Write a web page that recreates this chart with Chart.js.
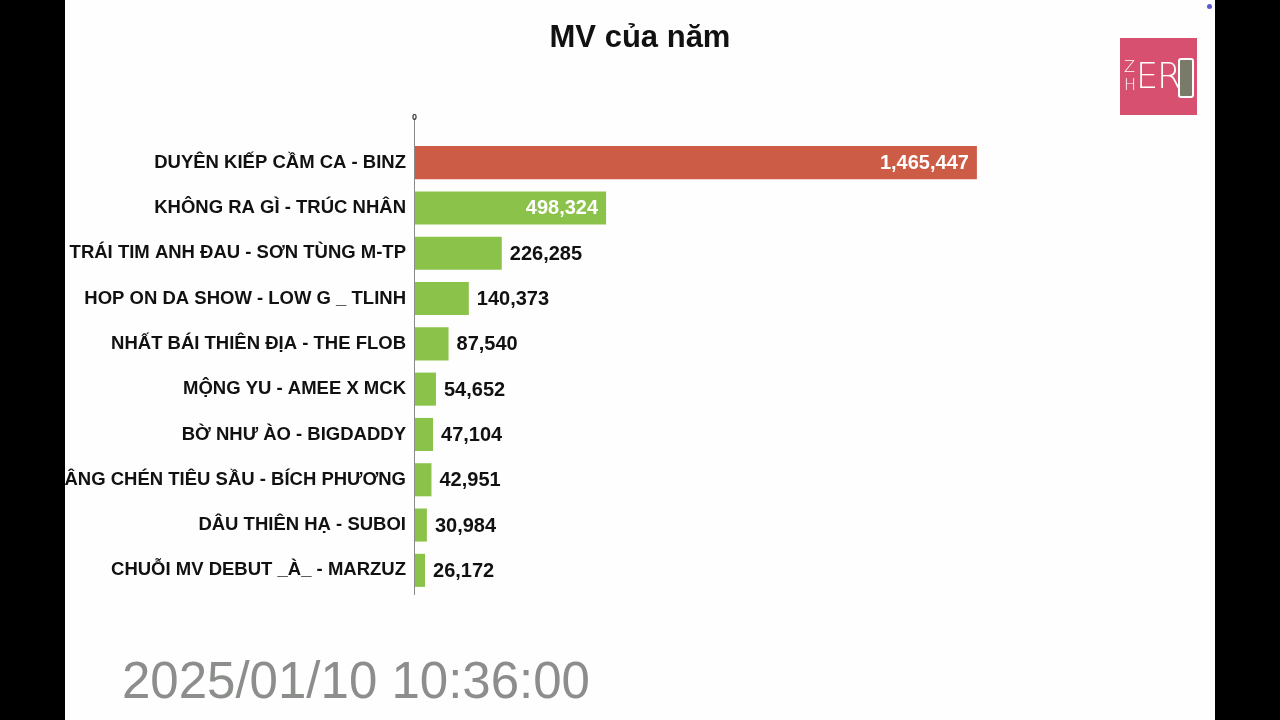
<!DOCTYPE html>
<html>
<head>
<meta charset="utf-8">
<script src="https://cdn.jsdelivr.net/npm/chart.js@4"></script>
<style>
  html, body { margin: 0; padding: 0; background: #000; }
  #stage { position: relative; width: 1280px; height: 720px; overflow: hidden; background: #000; }
  #panel { position: absolute; left: 65px; top: 0; width: 1150px; height: 720px; background: #fdfefd; }
  #wrap { position: absolute; left: 0; top: 0; width: 1150px; height: 720px; }
  #title {
    position: absolute; left: 0; top: 18px; width: 1150px; text-align: center;
    font: bold 31px "Liberation Sans", Arial, sans-serif; color: #111; line-height: 37px;
  }
  #stamp {
    position: absolute; left: 57px; top: 651px;
    font: 51px "Liberation Sans", Arial, sans-serif; color: #8c8e8c; white-space: nowrap;
  }
  #logo {
    position: absolute; left: 1055px; top: 38px; width: 77px; height: 77px; background: #d8506f;
    color: #fff; font-family: "DejaVu Sans", sans-serif;
  }
  #logo .zh { position: absolute; left: 4px; top: 20px; font-size: 16px; line-height: 18px; font-weight: 300; }
  #logo .er { position: absolute; left: 16px; top: 19px; font-size: 35px; line-height: 38px; font-weight: 300; letter-spacing: -1px; }
  #logo .ph { position: absolute; left: 58px; top: 20px; width: 12px; height: 36px; border: 2px solid #fff; border-radius: 3px; background: #7a7a68; }
  #dot { position: absolute; left: 1207px; top: 4px; width: 5px; height: 5px; border-radius: 50%; background: #5b5bd0; }
</style>
</head>
<body>
<div id="stage">
  <div id="panel">
    <div id="wrap"><canvas id="chart"></canvas></div>
    <div id="title">MV của năm</div>
    <div id="stamp">2025/01/10 10:36:00</div>
    <div id="logo"><div class="zh">Z<br>H</div><div class="er">ER</div><div class="ph"></div></div>
  </div>
  <div id="dot"></div>
</div>
<script>
const songs = [
  'DUYÊN KIẾP CẦM CA - BINZ',
  'KHÔNG RA GÌ - TRÚC NHÂN',
  'TRÁI TIM ANH ĐAU - SƠN TÙNG M-TP',
  'HOP ON DA SHOW - LOW G _ TLINH',
  'NHẤT BÁI THIÊN ĐỊA - THE FLOB',
  'MỘNG YU - AMEE X MCK',
  'BỜ NHƯ ÀO - BIGDADDY',
  'NÂNG CHÉN TIÊU SẦU - BÍCH PHƯƠNG',
  'DÂU THIÊN HẠ - SUBOI',
  'CHUỖI MV DEBUT _À_ - MARZUZ'
];
const views = [1465447, 498324, 226285, 140373, 87540, 54652, 47104, 42951, 30984, 26172];
const barColors = ['#cc5c45', '#8bc34a', '#8bc34a', '#8bc34a', '#8bc34a', '#8bc34a', '#8bc34a', '#8bc34a', '#8bc34a', '#8bc34a'];

const FONT = '"Liberation Sans", Arial, sans-serif';
const fmt = v => v.toLocaleString('en-US');

// zero line + tiny top tick label, drawn under the bars
const zeroLine = {
  id: 'zeroLine',
  beforeDatasetsDraw(chart) {
    const { ctx, chartArea, scales } = chart;
    const x = Math.round(scales.x.getPixelForValue(0)) - 0.5;
    ctx.save();
    ctx.strokeStyle = '#8a8a8a';
    ctx.lineWidth = 1;
    ctx.beginPath();
    ctx.moveTo(x, chartArea.top - 22);
    ctx.lineTo(x, chartArea.bottom + 2);
    ctx.stroke();
    ctx.fillStyle = '#333';
    ctx.font = 'bold 9px ' + FONT;
    ctx.textAlign = 'center';
    ctx.textBaseline = 'middle';
    ctx.fillText('0', x, chartArea.top - 22);
    ctx.restore();
  }
};

// value labels: inside (white) when the bar is long, else after the bar
const valueLabels = {
  id: 'valueLabels',
  afterDatasetsDraw(chart) {
    const { ctx } = chart;
    const meta = chart.getDatasetMeta(0);
    ctx.save();
    ctx.font = 'bold 20px ' + FONT;
    ctx.textBaseline = 'middle';
    meta.data.forEach((bar, i) => {
      const txt = fmt(views[i]);
      const w = ctx.measureText(txt).width;
      const barW = bar.x - bar.base;
      if (w + 40 < barW) {
        ctx.fillStyle = '#ffffff';
        ctx.textAlign = 'right';
        ctx.fillText(txt, bar.x - 8, bar.y + 1);
      } else {
        ctx.fillStyle = '#111111';
        ctx.textAlign = 'left';
        ctx.fillText(txt, bar.x + 8, bar.y + 1);
      }
    });
    ctx.restore();
  }
};

new Chart(document.getElementById('chart'), {
  type: 'bar',
  data: {
    labels: songs,
    datasets: [{
      data: views,
      backgroundColor: barColors,
      borderWidth: 0,
      categoryPercentage: 1,
      barPercentage: 0.73
    }]
  },
  options: {
    indexAxis: 'y',
    responsive: true,
    maintainAspectRatio: false,
    animation: false,
    layout: { padding: { top: 140, right: 129, bottom: 127, left: 0 } },
    plugins: {
      legend: { display: false },
      tooltip: { enabled: false },
      title: { display: false }
    },
    scales: {
      x: {
        display: false,
        min: 0,
        max: 1750000
      },
      y: {
        afterFit(scale) { scale.width = 350; },
        grid: { display: false, drawTicks: false },
        border: { display: false },
        ticks: {
          color: '#111111',
          padding: 9,
          font: { family: FONT, size: 18.5, weight: 'bold' }
        }
      }
    }
  },
  plugins: [zeroLine, valueLabels]
});
</script>
</body>
</html>
